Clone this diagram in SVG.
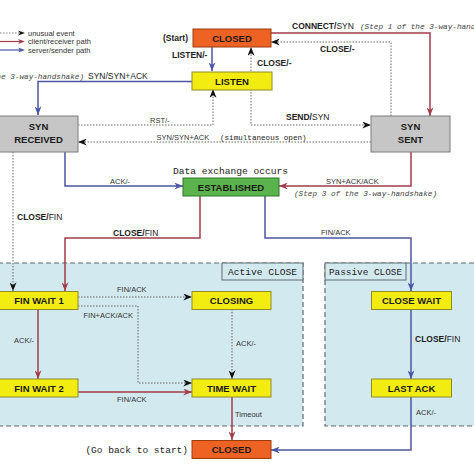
<svg xmlns="http://www.w3.org/2000/svg" width="474" height="474" viewBox="0 0 474 474">
<defs>
<style>
.st{font-family:"Liberation Sans",Arial,sans-serif;font-weight:bold;font-size:9.5px;fill:#1a1a1a;text-anchor:middle}
.lb{font-family:"Liberation Sans",Arial,sans-serif;font-size:7.5px;fill:#333}
.lbb{font-family:"Liberation Sans",Arial,sans-serif;font-size:8.5px;fill:#222}
.b{font-weight:bold}
.mono{font-family:"Liberation Mono","Courier New",monospace;fill:#222}
.it{font-style:italic;fill:#444}
.closed{fill:#ee6324;stroke:#9c3d10;stroke-width:1}
.yel{fill:#f3ec10;stroke:#8f8a2a;stroke-width:1}
.grn{fill:#5ab34c;stroke:#2f7a2a;stroke-width:1}
.gry{fill:#c6c6c6;stroke:#7d7d7d;stroke-width:1}
.region{fill:#d3e9f0;stroke:#5f6a72;stroke-width:1.2;stroke-dasharray:5,3}
.rlabel{fill:#d3e9f0;stroke:#5f6a72;stroke-width:1}
.red{fill:none;stroke:#a23d4a;stroke-width:1.5;marker-end:url(#mr)}
.blue{fill:none;stroke:#4b56a2;stroke-width:1.5;marker-end:url(#mb)}
.dot{fill:none;stroke:#666;stroke-width:1;stroke-dasharray:1.5,1.5;marker-end:url(#mk)}
</style>
<marker id="mr" viewBox="0 0 10 8" refX="10" refY="4" markerWidth="9" markerHeight="7" orient="auto" markerUnits="userSpaceOnUse"><path d="M0,0 L10,4 L0,8 L3,4 z" fill="#a23d4a"/></marker>
<marker id="mb" viewBox="0 0 10 8" refX="10" refY="4" markerWidth="9" markerHeight="7" orient="auto" markerUnits="userSpaceOnUse"><path d="M0,0 L10,4 L0,8 L3,4 z" fill="#4b56a2"/></marker>
<marker id="mk" viewBox="0 0 10 8" refX="10" refY="4" markerWidth="9" markerHeight="7" orient="auto" markerUnits="userSpaceOnUse"><path d="M0,0 L10,4 L0,8 L3,4 z" fill="#111"/></marker>
</defs>
<rect width="474" height="474" fill="#fff"/>

<g id="regions">
<rect class="region" x="-2" y="263" width="305" height="163"/>
<rect class="rlabel" x="222" y="263" width="81" height="17"/>
<text class="mono" x="262.5" y="275" font-size="9.6" text-anchor="middle">Active CLOSE</text>
<rect class="region" x="325" y="263" width="152" height="163"/>
<rect class="rlabel" x="325" y="263" width="81" height="17"/>
<text class="mono" x="365.5" y="275" font-size="9.4" text-anchor="middle">Passive CLOSE</text>
</g>

<g id="legend">
<path d="M0,33 H22" stroke="#888" stroke-width="1" stroke-dasharray="1.5,1.5" fill="none"/>
<path d="M18,30.5 L25,33 L18,35.5 L20,33 z" fill="#111"/>
<path d="M0,41.5 H22" stroke="#a23d4a" stroke-width="1.2" fill="none"/>
<path d="M18,39 L25,41.5 L18,44 L20,41.5 z" fill="#a23d4a"/>
<path d="M0,50 H22" stroke="#4b56a2" stroke-width="1.2" fill="none"/>
<path d="M18,47.5 L25,50 L18,52.5 L20,50 z" fill="#4b56a2"/>
<text class="lb" x="28" y="35.5" font-size="7">unusual event</text>
<text class="lb" x="28" y="44" font-size="7">client/receiver path</text>
<text class="lb" x="28" y="52.5" font-size="7">server/sender path</text>
</g>

<g id="connectors">
<path class="red" d="M271,33 H430 V116"/>
<path class="dot" d="M391,116 V42 H271"/>
<path class="blue" d="M212,47 V71"/>
<path class="dot" d="M251,71 V47"/>
<path class="blue" d="M192,81.5 H38 V115"/>
<path class="dot" d="M78,125 H213 V89"/>
<path class="dot" d="M251,89 V125 H371"/>
<path class="dot" d="M371,142 H78"/>
<path class="blue" d="M65,152 V186 H183"/>
<path class="red" d="M411,152 V186 H279"/>
<path class="dot" d="M13,152 V291"/>
<path class="red" d="M200,196 V238 H65 V291"/>
<path class="blue" d="M265,196 V238 H411 V291"/>
<path class="dot" d="M78,297 H192"/>
<path class="dot" d="M78,306 H138 V383 H192"/>
<path class="red" d="M38,309 V379"/>
<path class="dot" d="M232,309 V379"/>
<path class="red" d="M78,392 H192"/>
<path class="red" d="M232,397 V440"/>
<path class="blue" d="M411,309 V379"/>
<path class="blue" d="M411,397 V450 H271"/>

<text class="lbb" x="292" y="29"><tspan class="b">CONNECT/</tspan>SYN</text>
<text class="mono it" x="360" y="29" font-size="7.7">(Step 1 of the 3-way-handshake)</text>
<text class="lbb b" x="320" y="52">CLOSE/-</text>
<text class="lbb b" x="172" y="58">LISTEN/-</text>
<text class="lbb b" x="257" y="66">CLOSE/-</text>
<text class="mono it" x="84" y="79" font-size="7.7" text-anchor="end">(Step 2 of the 3-way-handshake)</text>
<text class="lbb" x="88" y="79">SYN/SYN+ACK</text>
<text class="lb" x="150" y="122.5">RST/-</text>
<text class="lbb" x="286" y="119.5"><tspan class="b">SEND/</tspan>SYN</text>
<text class="lb" x="156.5" y="139.5" font-size="7.8">SYN/SYN+ACK</text>
<text class="mono" x="220" y="139.5" font-size="7.6">(simultaneous open)</text>
<text class="mono" x="230.5" y="174" font-size="9.6" text-anchor="middle">Data exchange occurs</text>
<text class="lb" x="110" y="183.5">ACK/-</text>
<text class="lb" x="326" y="183.5">SYN+ACK/ACK</text>
<text class="mono it" x="294" y="195.5" font-size="7.7">(Step 3 of the 3-way-handshake)</text>
<text class="lbb" x="17" y="220"><tspan class="b">CLOSE/</tspan>FIN</text>
<text class="lbb" x="113" y="236"><tspan class="b">CLOSE/</tspan>FIN</text>
<text class="lb" x="321" y="235">FIN/ACK</text>
<text class="lb" x="117" y="292">FIN/ACK</text>
<text class="lb" x="83.5" y="318">FIN+ACK/ACK</text>
<text class="lb" x="14" y="343">ACK/-</text>
<text class="lb" x="236" y="346">ACK/-</text>
<text class="lbb" x="415" y="342"><tspan class="b">CLOSE/</tspan>FIN</text>
<text class="lb" x="117" y="402">FIN/ACK</text>
<text class="lb" x="235" y="417">Timeout</text>
<text class="lb" x="416" y="414.5">ACK/-</text>
<text class="lbb b" x="163" y="40.5">(Start)</text>
<text class="mono" x="188" y="452.5" font-size="9.5" text-anchor="end">(Go back to start)</text>
</g>

<g id="closed-top"><rect class="closed" x="193" y="29" width="78" height="18"/><text class="st" x="232" y="41.5">CLOSED</text></g>
<g id="listen"><rect class="yel" x="192" y="72" width="80" height="18"/><text class="st" x="232" y="84.5">LISTEN</text></g>
<g id="syn-received"><rect class="gry" x="-1" y="116" width="79" height="36"/><text class="st" x="38.5" y="130">SYN</text><text class="st" x="38.5" y="142.5">RECEIVED</text></g>
<g id="syn-sent"><rect class="gry" x="371" y="116" width="79" height="36"/><text class="st" x="410.5" y="130">SYN</text><text class="st" x="410.5" y="142.5">SENT</text></g>
<g id="established"><rect class="grn" x="183" y="178" width="96" height="18"/><text class="st" x="231" y="190.5">ESTABLISHED</text></g>
<g id="fin-wait-1"><rect class="yel" x="-1" y="291.5" width="79" height="18"/><text class="st" x="39" y="304">FIN WAIT 1</text></g>
<g id="closing"><rect class="yel" x="192" y="291.5" width="79" height="18"/><text class="st" x="231.5" y="304">CLOSING</text></g>
<g id="close-wait"><rect class="yel" x="371.5" y="291.5" width="80" height="18"/><text class="st" x="411.5" y="304">CLOSE WAIT</text></g>
<g id="fin-wait-2"><rect class="yel" x="-1" y="379" width="79" height="18"/><text class="st" x="39" y="391.5">FIN WAIT 2</text></g>
<g id="time-wait"><rect class="yel" x="192" y="379" width="79" height="18"/><text class="st" x="231.5" y="391.5">TIME WAIT</text></g>
<g id="last-ack"><rect class="yel" x="371.5" y="379" width="80" height="18"/><text class="st" x="411.5" y="391.5">LAST ACK</text></g>
<g id="closed-bottom"><rect class="closed" x="192" y="440.5" width="79" height="18"/><text class="st" x="231.5" y="453">CLOSED</text></g>
</svg>
